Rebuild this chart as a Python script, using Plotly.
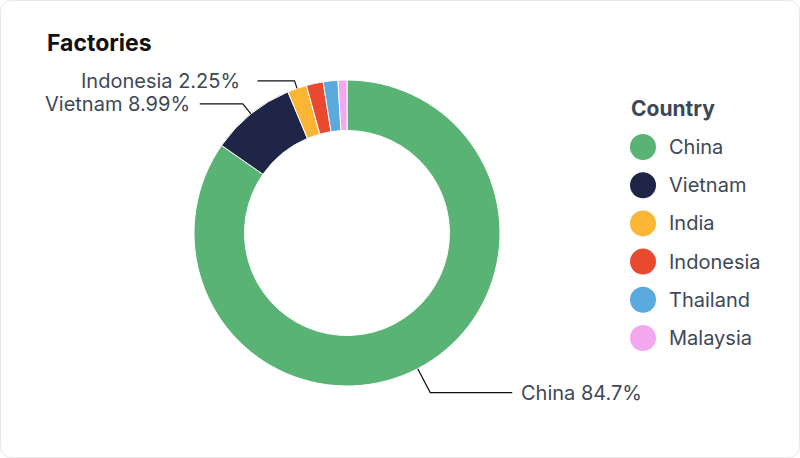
import math
import plotly.graph_objects as go

# ---- data ----
countries = ["China", "Vietnam", "India", "Indonesia", "Thailand", "Malaysia"]
shares = [84.7, 8.99, 2.04, 1.78, 1.55, 0.94]
colors = ["#58b374", "#1f2547", "#fbb636", "#e8492f", "#5aa9df", "#f3a7ee"]
label_texts = ["China 84.7%", "Vietnam 8.99%", "Indonesia 2.25%"]
label_anchor_slice = [0, 1, 2]

title_text = "Factories"
legend_title = "Country"

# ---- layout constants (pixels) ----
W, H = 800, 458
cx, cy, R = 347, 233, 153
FONT = "Inter, 'Open Sans', sans-serif"
TXT = "#3d4857"


def px(x):
    return x / W


def py(y):
    return 1 - y / H


fig = go.Figure()
fig.add_trace(go.Pie(
    labels=countries,
    values=shares,
    marker=dict(colors=colors, line=dict(color="white", width=1)),
    hole=0.67,
    sort=False,
    direction="clockwise",
    rotation=0,
    textinfo="none",
    showlegend=False,
    domain=dict(x=[px(cx - R), px(cx + R)], y=[py(cy + R), py(cy - R)]),
))

shapes = []
annotations = []

# card background
r = 12
x0, y0, x1, y1 = 0.5, 0.5, W - 0.5, H - 0.5
path = (f"M {px(x0 + r)} {py(y0)} L {px(x1 - r)} {py(y0)} "
        f"Q {px(x1)} {py(y0)} {px(x1)} {py(y0 + r)} L {px(x1)} {py(y1 - r)} "
        f"Q {px(x1)} {py(y1)} {px(x1 - r)} {py(y1)} L {px(x0 + r)} {py(y1)} "
        f"Q {px(x0)} {py(y1)} {px(x0)} {py(y1 - r)} L {px(x0)} {py(y0 + r)} "
        f"Q {px(x0)} {py(y0)} {px(x0 + r)} {py(y0)} Z")
shapes.append(dict(type="path", xref="paper", yref="paper", path=path,
                   line=dict(color="#e8e8e8", width=1), fillcolor="rgba(0,0,0,0)", layer="below"))

# leader lines and labels
total = sum(shares)
cum = [0]
for v in shares:
    cum.append(cum[-1] + v)

label_style = [  # (elbow radius, horizontal length, text gap)
    (180, 82, 7),
    (166, 43, 8),
    (161, 37, 15),
]
for text, idx, (er, hl, gap) in zip(label_texts, label_anchor_slice, label_style):
    mid = (cum[idx] + cum[idx + 1]) / 2 / total * 2 * math.pi
    sx, sy = cx + R * math.sin(mid), cy - R * math.cos(mid)
    ex, ey = cx + er * math.sin(mid), cy - er * math.cos(mid)
    right = math.sin(mid) > 0
    hx = ex + hl if right else ex - hl
    shapes.append(dict(type="path", xref="paper", yref="paper",
                       path=f"M {px(sx)} {py(sy)} L {px(ex)} {py(ey)} L {px(hx)} {py(ey)}",
                       line=dict(color="#111111", width=1.2)))
    annotations.append(dict(xref="paper", yref="paper",
                            x=px(hx + gap if right else hx - gap), y=py(ey),
                            xanchor="left" if right else "right", yanchor="middle",
                            text=text, showarrow=False,
                            font=dict(family=FONT, size=20, color=TXT)))

# title
annotations.append(dict(xref="paper", yref="paper", x=px(45), y=py(43),
                        xanchor="left", yanchor="middle", text=f"<b>{title_text}</b>",
                        showarrow=False, font=dict(family=FONT, size=23, color="#111111")))

# legend (custom, circle markers)
annotations.append(dict(xref="paper", yref="paper", x=px(629), y=py(108),
                        xanchor="left", yanchor="middle", text=f"<b>{legend_title}</b>",
                        showarrow=False, font=dict(family=FONT, size=21, color="#3a4858")))
lr = 13
for i, (name, col) in enumerate(zip(countries, colors)):
    yc = 147 + i * 38.2
    shapes.append(dict(type="circle", xref="paper", yref="paper",
                       x0=px(643 - lr), x1=px(643 + lr), y0=py(yc + lr), y1=py(yc - lr),
                       fillcolor=col, line=dict(width=0)))
    annotations.append(dict(xref="paper", yref="paper", x=px(667), y=py(yc),
                            xanchor="left", yanchor="middle", text=name, showarrow=False,
                            font=dict(family=FONT, size=20, color=TXT)))

fig.update_layout(
    width=W, height=H,
    margin=dict(l=0, r=0, t=0, b=0),
    paper_bgcolor="white",
    plot_bgcolor="white",
    shapes=shapes,
    annotations=annotations,
    showlegend=False,
)

fig.write_html("out.html")
